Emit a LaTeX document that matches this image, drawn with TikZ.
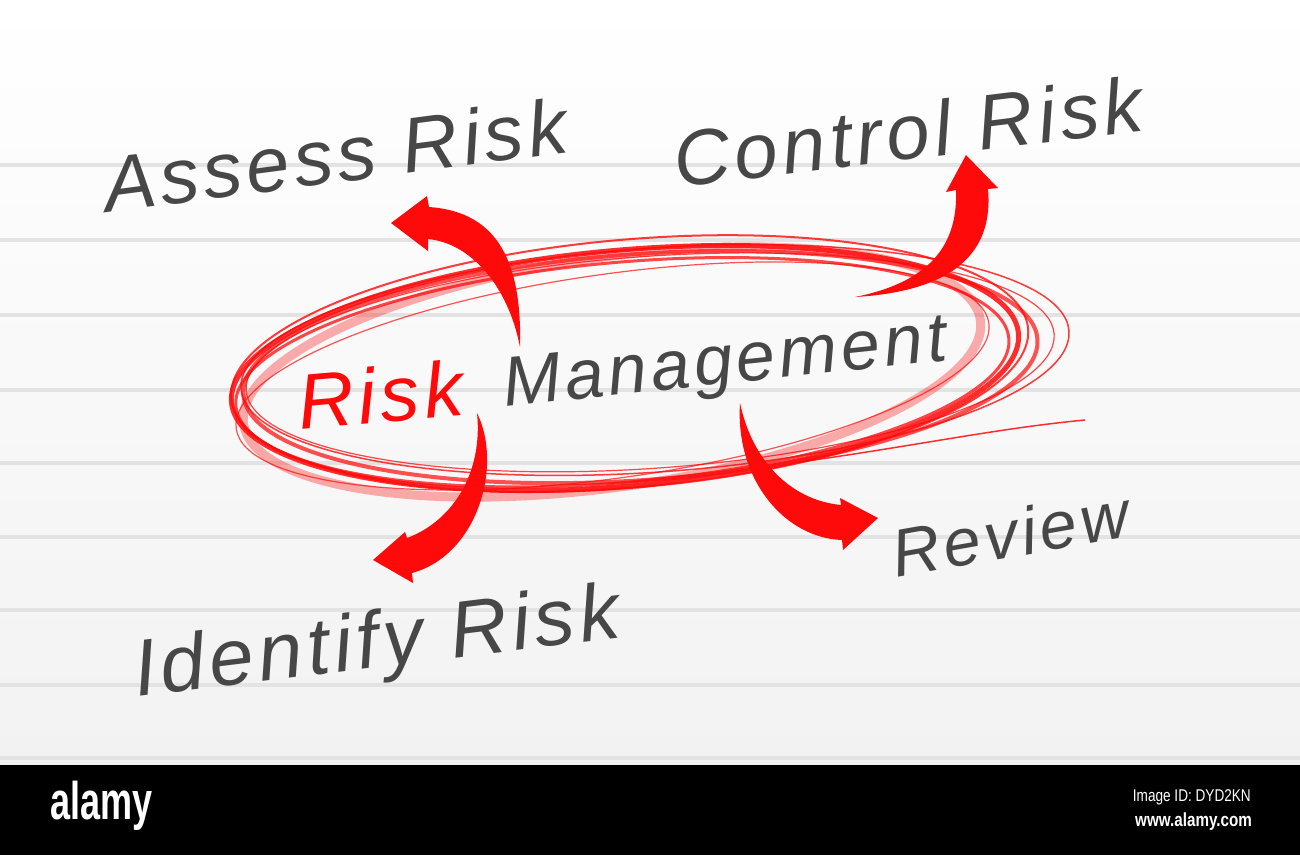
\documentclass[tikz,border=0pt]{standalone}
\usepackage{fontspec}
\setmainfont{Liberation Sans}
\newfontfamily\hand[LetterSpace=6]{Liberation Sans}
\definecolor{ink}{HTML}{474747}
\definecolor{pen}{HTML}{FF0A0A}
\definecolor{rulegray}{HTML}{E3E3E3}
\definecolor{paperlow}{HTML}{F2F2F2}
\tikzset{
  hw/.style={font=\hand\itshape\fontsize{#1}{#1}\selectfont, text=ink, inner sep=0pt, anchor=base west},
  ring/.style={draw=pen, line width=#1},
  redarrow/.style={fill=pen, draw=none},
  ruleline/.style={draw=rulegray, line width=4pt},
  banner/.style={text=white, inner sep=0pt}
}
\begin{document}
\begin{tikzpicture}[x=1pt,y=-1pt]
\useasboundingbox (0,0) rectangle (1300,855);
% paper
\shade[top color=white, bottom color=paperlow] (0,0) rectangle (1300,765);
\foreach \yy in {165,240,315,390,463,537,610,685,758}
  \draw[ruleline] (0,\yy) -- (1300,\yy);
% red rings
\begin{scope}[rotate around={5:(625,368)}]
  \draw[ring=5pt, opacity=.85] (625,368) ellipse [x radius=395, y radius=118];
  \draw[ring=3pt, opacity=.75] (622,372) ellipse [x radius=388, y radius=110];
  \draw[ring=2pt, opacity=.8] (630,364) ellipse [x radius=400, y radius=124];
\end{scope}
\begin{scope}[rotate around={8:(612,372)}]
  \draw[ring=9pt, opacity=.33] (612,372) ellipse [x radius=372, y radius=115];
  \draw[ring=1.2pt, opacity=.7] (612,376) ellipse [x radius=380, y radius=102];
\end{scope}
\begin{scope}[rotate around={4:(655,360)}]
  \draw[ring=1.5pt, opacity=.8] (655,360) ellipse [x radius=415, y radius=112];
  \draw[ring=4pt, opacity=.7] (640,366) ellipse [x radius=398, y radius=113];
  \draw[ring=1.2pt, opacity=.75] (650,362) ellipse [x radius=405, y radius=106];
\end{scope}
\draw[ring=1.5pt, opacity=.85] (800,462) .. controls (920,445) and (1000,428) .. (1085,420);
% arrows
\fill[redarrow] (520,347) .. controls (522,265) and (500,212) .. (429,207)
  -- (427,196) -- (391,223) -- (428,251) -- (428,239)
  .. controls (470,243) and (508,285) .. (520,347) -- cycle;
\fill[redarrow] (855,297) .. controls (975,290) and (992,235) .. (988,189)
  -- (998,188) -- (966,155) -- (946,192) -- (956,190)
  .. controls (958,245) and (930,282) .. (855,297) -- cycle;
\fill[redarrow] (477,413) .. controls (503,465) and (478,555) .. (412,573)
  -- (413,583) -- (373,560) -- (405,532) -- (407,538)
  .. controls (455,520) and (483,470) .. (477,413) -- cycle;
\fill[redarrow] (740,403) .. controls (735,480) and (785,538) .. (842,540)
  -- (843,550) -- (878,518) -- (840,498) -- (841,505)
  .. controls (790,500) and (752,460) .. (740,403) -- cycle;
% texts
\node[hw=78, rotate=7.5] (assess) at (107,213) {Assess Risk};
\node[hw=78, rotate=7] (control) at (677,188) {Control Risk};
\node[hw=80, rotate=7] (identify) at (137,697) {Identify Risk};
\node[hw=67, rotate=10] (review) at (896,578) {Review};
\node[hw=78, rotate=5, text=pen] (risk) at (300,430) {Risk};
\node[hw=70, rotate=6] (mgmt) at (505,407) {Management};
% banner
\fill[black] (0,765) rectangle (1300,855);
\node[banner, anchor=west, font=\bfseries\fontsize{53}{53}\selectfont] (logo) at (50,806) {\scalebox{0.68}[1]{alamy}};
\node[banner, anchor=east, font=\fontsize{17}{17}\selectfont] (imgid) at (1251,797) {\scalebox{0.8}[1]{Image ID: DYD2KN}};
\node[banner, anchor=east, font=\bfseries\fontsize{19}{19}\selectfont] (www) at (1252,822) {\scalebox{0.8}[1]{www.alamy.com}};
\end{tikzpicture}
\end{document}
